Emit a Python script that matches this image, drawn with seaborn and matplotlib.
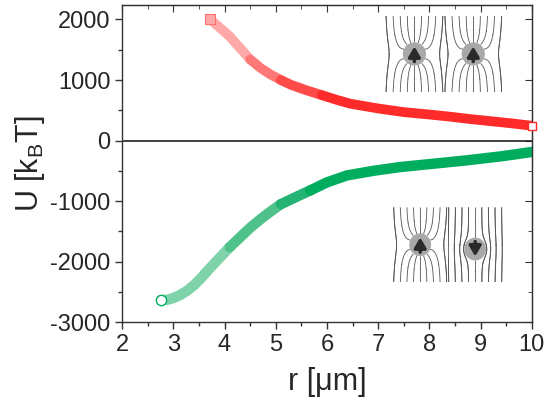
import numpy as np
import pandas as pd
import seaborn as sns
import matplotlib.pyplot as plt
from matplotlib.patches import Circle

# values
r_red = [3.72, 3.9, 4.1, 4.3, 4.5, 4.7, 4.9, 5.1, 5.3, 5.6, 5.9, 6.2, 6.45, 7.0, 7.5, 8.0, 8.4, 8.8, 9.2, 9.6, 10.0]
u_red = [2000, 1870, 1720, 1530, 1340, 1200, 1090, 1000, 920, 830, 750, 670, 610, 530, 470, 430, 395, 355, 320, 285, 245]
r_green = [2.76, 2.9, 3.0, 3.13, 3.26, 3.4, 3.52, 3.7, 3.91, 4.1, 4.3, 4.5, 4.7, 4.9, 5.1, 5.4, 5.67, 6.0, 6.39, 6.9, 7.43, 8.1, 8.73, 9.4, 10.0]
u_green = [-2635, -2625, -2600, -2550, -2485, -2390, -2290, -2120, -1930, -1760, -1600, -1440, -1300, -1170, -1050, -930, -824, -690, -575, -500, -437, -380, -326, -260, -188]

# open markers: sparse on the left look pale, dense on the right look solid
red_tints = ['#ffa8a8', '#ff7878', '#ff4a4a', '#ff2a2a']
green_tints = ['#7fd3ab', '#4fc18b', '#24b372', '#00ad5f']
red_breaks = [3.72, 4.5, 5.1, 5.9, 10.0]
green_breaks = [2.76, 4.1, 5.1, 5.67, 10.0]

sns.set_style('ticks')
plt.rcParams['font.family'] = ['Liberation Sans', 'DejaVu Sans']
plt.rcParams['mathtext.fontset'] = 'custom'
plt.rcParams['mathtext.rm'] = 'Liberation Sans'
plt.rcParams['mathtext.it'] = 'Liberation Sans'
plt.rcParams['axes.unicode_minus'] = False

fig = plt.figure(figsize=(5.5, 4.09), dpi=100)
ax = fig.add_axes([0.222, 0.212, 0.745, 0.776])

df_red = pd.DataFrame({'r': r_red, 'U': u_red})
df_green = pd.DataFrame({'r': r_green, 'U': u_green})

for df, tints, br, lw in [(df_red, red_tints, red_breaks, 7), (df_green, green_tints, green_breaks, 7.5)]:
    for i, c in enumerate(tints):
        part = df[(df.r >= br[i]) & (df.r <= br[i + 1])]
        sns.lineplot(data=part, x='r', y='U', color=c, lw=lw, ax=ax, solid_capstyle='round')

sns.scatterplot(data=df_red.tail(1), x='r', y='U', marker='s', s=40, facecolor='white',
                edgecolor=red_tints[-1], linewidth=1, ax=ax, zorder=4, clip_on=False)
sns.scatterplot(data=df_green.head(1), x='r', y='U', marker='o', s=55, facecolor='white',
                edgecolor=green_tints[-1], linewidth=1, ax=ax, zorder=4)
sns.scatterplot(data=df_red.head(1), x='r', y='U', marker='s', s=50, facecolor=red_tints[0],
                edgecolor='#ff7070', linewidth=0.8, ax=ax, zorder=4)

ax.axhline(0, color='#222222', lw=1.2, zorder=1)
ax.set_xlim(2, 10)
ax.set_ylim(-3000, 2240)
ax.set_xticks(range(2, 11))
ax.set_yticks([-3000, -2000, -1000, 0, 1000, 2000])
ax.set_xticks(np.arange(2.5, 10, 1), minor=True)
ax.set_yticks(np.arange(-2500, 2240, 1000), minor=True)
ax.tick_params(which='major', direction='out', length=5, width=1, labelsize=17, color='#333333')
ax.tick_params(which='minor', direction='out', length=3, width=1, color='#333333')
ax.set_xlabel('r [μm]', fontsize=22, labelpad=8)
ax.set_ylabel('U [k$_\\mathrm{B}$T]', fontsize=22, labelpad=2)
for s in ax.spines.values():
    s.set_color('#333333')
    s.set_linewidth(1)

top = ax.secondary_xaxis('top')
top.set_xticks(range(2, 11))
top.set_xticks(np.arange(2.5, 10, 1), minor=True)
top.tick_params(which='both', direction='in', labeltop=False, color='#333333')
top.tick_params(which='major', length=5)
top.tick_params(which='minor', length=3)
right = ax.secondary_yaxis('right')
right.set_yticks([-3000, -2000, -1000, 0, 1000, 2000])
right.set_yticks(np.arange(-2500, 2240, 1000), minor=True)
right.tick_params(which='both', direction='in', labelright=False, color='#333333')
right.tick_params(which='major', length=5)
right.tick_params(which='minor', length=3)


# schematic insets: field lines around a particle in an applied field
def field_panel(rect, m, yc):
    a = fig.add_axes(rect)
    gx, gy = np.meshgrid(np.linspace(-2.7, 2.7, 160), np.linspace(-3.5, 3.5, 200))
    px, py = gx, gy - yc
    rr = np.hypot(px, py)
    rr5 = np.where(rr < 0.3, np.nan, rr) ** 5
    bx = 3 * m * px * py / rr5
    by = 1 + m * (3 * py ** 2 - rr ** 2) / rr5
    bx = np.ma.masked_where(rr < 1.0, bx)
    by = np.ma.masked_where(rr < 1.0, by)
    starts = np.array([[x, -3.45] for x in np.linspace(-2.6, 2.6, 9)] +
                      [[x, 3.45] for x in np.linspace(-2.6, 2.6, 9)])
    a.streamplot(gx, gy, bx, by, start_points=starts, color='#555555', linewidth=0.6,
                 arrowstyle='-', density=3, broken_streamlines=False)
    a.add_patch(Circle((0, yc), 1.0, color='#a8a8a8', zorder=3))
    d = 1 if m > 0 else -1
    a.annotate('', xy=(0, yc + 0.95 * d), xytext=(0, yc - 0.95 * d),
               arrowprops=dict(arrowstyle='-|>,head_width=0.35,head_length=0.6',
                               color='#2a2a2a', lw=2.5), zorder=4)
    a.set_xlim(-2.7, 2.7)
    a.set_ylim(-3.5, 3.5)
    a.axis('off')


field_panel([0.700, 0.775, 0.107, 0.186], 2.0, 0.0)
field_panel([0.807, 0.775, 0.107, 0.186], 2.0, 0.0)
field_panel([0.714, 0.310, 0.100, 0.183], 2.0, 0.0)
field_panel([0.814, 0.310, 0.100, 0.183], -0.5, -0.4)

fig.savefig('out.png', dpi=100)
